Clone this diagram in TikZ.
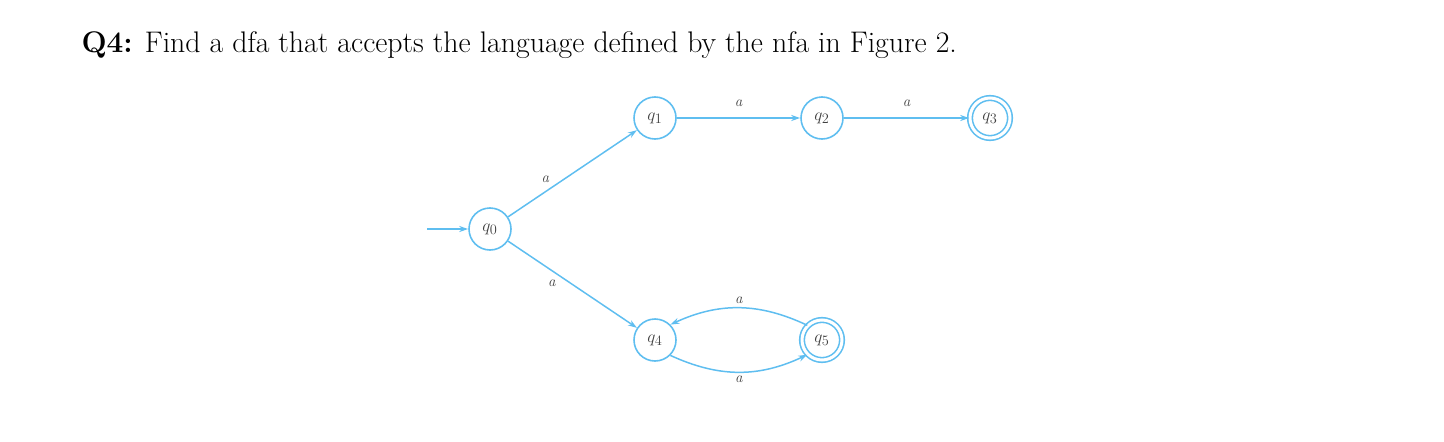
\documentclass[tikz,border=0pt]{standalone}
\usetikzlibrary{arrows.meta}
\definecolor{sb}{RGB}{95,190,240}
\begin{document}
\begin{tikzpicture}[x=1pt,y=-1pt,
  state/.style={circle,draw=sb,line width=1.6pt,minimum size=42pt,inner sep=0pt,font=\fontsize{19}{22}\selectfont,text=black!75},
  acc/.style={state,double=white,double distance=3pt,minimum size=40pt},
  edge/.style={draw=sb,line width=1.5pt,-{Stealth[length=9pt,width=6pt]}},
  lab/.style={font=\fontsize{15}{17}\selectfont\itshape,text=black!75}]
\useasboundingbox (0,0) rectangle (1444,442);
\node[anchor=west,font=\fontsize{29.8}{34}\selectfont] (title) at (78,45) {\textbf{Q4:} Find a dfa that accepts the language defined by the nfa in Figure 2.};
\node[state] (q0) at (490,229) {$q_0$};
\node[state] (q1) at (655,118) {$q_1$};
\node[state] (q2) at (822,118) {$q_2$};
\node[acc] (q3) at (990,118) {$q_3$};
\node[state] (q4) at (655,340) {$q_4$};
\node[acc] (q5) at (822,340) {$q_5$};
\coordinate (s) at (427,229);
\draw[edge] (s) -- (q0);
\draw[edge] (q0) -- node[lab,above left,pos=0.35] {a} (q1);
\draw[edge] (q1) -- node[lab,above=7pt] {a} (q2);
\draw[edge] (q2) -- node[lab,above=7pt] {a} (q3);
\draw[edge] (q0) -- node[lab,below left,pos=0.4] {a} (q4);
\draw[edge] (q5.north west) to[bend right=25] node[lab,above] {a} (q4.north east);
\draw[edge] (q4.south east) to[bend right=25] node[lab,below] {a} (q5.south west);
\end{tikzpicture}
\end{document}
